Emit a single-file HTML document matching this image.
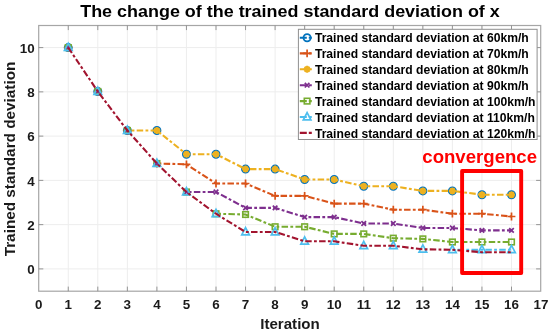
<!DOCTYPE html>
<html><head><meta charset="utf-8"><title>The change of the trained standard deviation of x</title>
<style>
html,body{margin:0;padding:0;background:#fff}
body{width:550px;height:332px;position:relative;overflow:hidden;font-family:"Liberation Sans",Arial,sans-serif;font-weight:bold;color:#1a1a1a}
.t{position:absolute;white-space:nowrap;line-height:1}
.title{left:0px;width:580px;text-align:center;top:3.2px;font-size:17.95px;color:#000;transform:scaleY(0.95)}
.xt{font-size:13.4px;top:298px;width:30px;text-align:center}
.yt{font-size:13.4px;width:30px;text-align:right;left:4.7px}
.xl{left:0;width:580px;text-align:center;top:315.8px;font-size:15.1px}
.yl{left:9.7px;top:159.1px;font-size:15.3px;transform:translate(-50%,-50%) rotate(-90deg) scaleY(0.96)}
.lg{left:314.9px;font-size:12.15px;color:#000;transform:scaleY(1.02)}
.cv{left:422.3px;top:147.5px;font-size:18.6px;color:#ff0000}
</style></head><body>
<svg width="550" height="332" viewBox="0 0 550 332" style="position:absolute;left:0;top:0">
<rect width="550" height="332" fill="#fff"/>
<path d="M68.25 25.5V291.2M97.80 25.5V291.2M127.35 25.5V291.2M156.90 25.5V291.2M186.45 25.5V291.2M216.00 25.5V291.2M245.55 25.5V291.2M275.10 25.5V291.2M304.65 25.5V291.2M334.20 25.5V291.2M363.75 25.5V291.2M393.30 25.5V291.2M422.85 25.5V291.2M452.40 25.5V291.2M481.95 25.5V291.2M511.50 25.5V291.2M38.7 268.90H540.7M38.7 224.64H540.7M38.7 180.38H540.7M38.7 136.12H540.7M38.7 91.86H540.7M38.7 47.60H540.7" stroke="#ededed" stroke-width="1" fill="none"/>
<rect x="38.7" y="25.5" width="502.00000000000006" height="265.7" fill="none" stroke="#a6a6a6" stroke-width="1.2"/>
<path d="M68.25 291.2v-4.6M68.25 25.5v4.6M97.80 291.2v-4.6M97.80 25.5v4.6M127.35 291.2v-4.6M127.35 25.5v4.6M156.90 291.2v-4.6M156.90 25.5v4.6M186.45 291.2v-4.6M186.45 25.5v4.6M216.00 291.2v-4.6M216.00 25.5v4.6M245.55 291.2v-4.6M245.55 25.5v4.6M275.10 291.2v-4.6M275.10 25.5v4.6M304.65 291.2v-4.6M304.65 25.5v4.6M334.20 291.2v-4.6M334.20 25.5v4.6M363.75 291.2v-4.6M363.75 25.5v4.6M393.30 291.2v-4.6M393.30 25.5v4.6M422.85 291.2v-4.6M422.85 25.5v4.6M452.40 291.2v-4.6M452.40 25.5v4.6M481.95 291.2v-4.6M481.95 25.5v4.6M511.50 291.2v-4.6M511.50 25.5v4.6M38.7 268.90h4.6M540.7 268.90h-4.6M38.7 224.64h4.6M540.7 224.64h-4.6M38.7 180.38h4.6M540.7 180.38h-4.6M38.7 136.12h4.6M540.7 136.12h-4.6M38.7 91.86h4.6M540.7 91.86h-4.6M38.7 47.60h4.6M540.7 47.60h-4.6" stroke="#8a8a8a" stroke-width="0.9" fill="none"/>
<circle cx="68.25" cy="47.60" r="3.6" fill="none" stroke="#0072BD" stroke-width="1.8"/>
<circle cx="97.80" cy="91.50" r="3.6" fill="none" stroke="#0072BD" stroke-width="1.8"/>
<circle cx="127.35" cy="130.50" r="3.6" fill="none" stroke="#0072BD" stroke-width="1.8"/>
<circle cx="156.90" cy="130.50" r="3.6" fill="none" stroke="#0072BD" stroke-width="1.8"/>
<circle cx="186.45" cy="154.20" r="3.6" fill="none" stroke="#0072BD" stroke-width="1.8"/>
<circle cx="216.00" cy="154.20" r="3.6" fill="none" stroke="#0072BD" stroke-width="1.8"/>
<circle cx="245.55" cy="169.10" r="3.6" fill="none" stroke="#0072BD" stroke-width="1.8"/>
<circle cx="275.10" cy="169.10" r="3.6" fill="none" stroke="#0072BD" stroke-width="1.8"/>
<circle cx="304.65" cy="179.50" r="3.6" fill="none" stroke="#0072BD" stroke-width="1.8"/>
<circle cx="334.20" cy="179.50" r="3.6" fill="none" stroke="#0072BD" stroke-width="1.8"/>
<circle cx="363.75" cy="186.25" r="3.6" fill="none" stroke="#0072BD" stroke-width="1.8"/>
<circle cx="393.30" cy="186.25" r="3.6" fill="none" stroke="#0072BD" stroke-width="1.8"/>
<circle cx="422.85" cy="190.90" r="3.6" fill="none" stroke="#0072BD" stroke-width="1.8"/>
<circle cx="452.40" cy="190.90" r="3.6" fill="none" stroke="#0072BD" stroke-width="1.8"/>
<circle cx="481.95" cy="194.70" r="3.6" fill="none" stroke="#0072BD" stroke-width="1.8"/>
<circle cx="511.50" cy="194.70" r="3.6" fill="none" stroke="#0072BD" stroke-width="1.8"/>
<polyline points="156.90,163.50 186.45,164.30 216.00,183.50 245.55,183.50 275.10,195.90 304.65,195.90 334.20,203.60 363.75,203.60 393.30,209.70 422.85,209.70 452.40,213.70 481.95,213.70 511.50,216.50" fill="none" stroke="#D95319" stroke-width="2.1" stroke-dasharray="6.5 2.3 2.8 2.3" stroke-dashoffset="7.15"/>
<path d="M64.35 47.60H72.15M68.25 43.70V51.50" stroke="#D95319" stroke-width="1.7" fill="none"/>
<path d="M93.90 91.50H101.70M97.80 87.60V95.40" stroke="#D95319" stroke-width="1.7" fill="none"/>
<path d="M123.45 130.50H131.25M127.35 126.60V134.40" stroke="#D95319" stroke-width="1.7" fill="none"/>
<path d="M153.00 163.50H160.80M156.90 159.60V167.40" stroke="#D95319" stroke-width="1.7" fill="none"/>
<path d="M182.55 164.30H190.35M186.45 160.40V168.20" stroke="#D95319" stroke-width="1.7" fill="none"/>
<path d="M212.10 183.50H219.90M216.00 179.60V187.40" stroke="#D95319" stroke-width="1.7" fill="none"/>
<path d="M241.65 183.50H249.45M245.55 179.60V187.40" stroke="#D95319" stroke-width="1.7" fill="none"/>
<path d="M271.20 195.90H279.00M275.10 192.00V199.80" stroke="#D95319" stroke-width="1.7" fill="none"/>
<path d="M300.75 195.90H308.55M304.65 192.00V199.80" stroke="#D95319" stroke-width="1.7" fill="none"/>
<path d="M330.30 203.60H338.10M334.20 199.70V207.50" stroke="#D95319" stroke-width="1.7" fill="none"/>
<path d="M359.85 203.60H367.65M363.75 199.70V207.50" stroke="#D95319" stroke-width="1.7" fill="none"/>
<path d="M389.40 209.70H397.20M393.30 205.80V213.60" stroke="#D95319" stroke-width="1.7" fill="none"/>
<path d="M418.95 209.70H426.75M422.85 205.80V213.60" stroke="#D95319" stroke-width="1.7" fill="none"/>
<path d="M448.50 213.70H456.30M452.40 209.80V217.60" stroke="#D95319" stroke-width="1.7" fill="none"/>
<path d="M478.05 213.70H485.85M481.95 209.80V217.60" stroke="#D95319" stroke-width="1.7" fill="none"/>
<path d="M507.60 216.50H515.40M511.50 212.60V220.40" stroke="#D95319" stroke-width="1.7" fill="none"/>
<polyline points="127.35,130.50 156.90,130.50 186.45,154.20 216.00,154.20 245.55,169.10 275.10,169.10 304.65,179.50 334.20,179.50 363.75,186.25 393.30,186.25 422.85,190.90 452.40,190.90 481.95,194.70 511.50,194.70" fill="none" stroke="#EDB120" stroke-width="2.1" stroke-dasharray="6.5 2.3 2.8 2.3" stroke-dashoffset="4.55"/>
<path d="M64.75 47.60H71.75M68.25 44.10V51.10M65.78 45.13L70.72 50.07M65.78 50.07L70.72 45.13" stroke="#EDB120" stroke-width="2" fill="none"/><circle cx="68.25" cy="47.60" r="2.6" fill="#EDB120"/>
<path d="M94.30 91.50H101.30M97.80 88.00V95.00M95.33 89.03L100.27 93.97M95.33 93.97L100.27 89.03" stroke="#EDB120" stroke-width="2" fill="none"/><circle cx="97.80" cy="91.50" r="2.6" fill="#EDB120"/>
<path d="M123.85 130.50H130.85M127.35 127.00V134.00M124.88 128.03L129.82 132.97M124.88 132.97L129.82 128.03" stroke="#EDB120" stroke-width="2" fill="none"/><circle cx="127.35" cy="130.50" r="2.6" fill="#EDB120"/>
<path d="M153.40 130.50H160.40M156.90 127.00V134.00M154.43 128.03L159.37 132.97M154.43 132.97L159.37 128.03" stroke="#EDB120" stroke-width="2" fill="none"/><circle cx="156.90" cy="130.50" r="2.6" fill="#EDB120"/>
<path d="M182.95 154.20H189.95M186.45 150.70V157.70M183.98 151.73L188.92 156.67M183.98 156.67L188.92 151.73" stroke="#EDB120" stroke-width="2" fill="none"/><circle cx="186.45" cy="154.20" r="2.6" fill="#EDB120"/>
<path d="M212.50 154.20H219.50M216.00 150.70V157.70M213.53 151.73L218.47 156.67M213.53 156.67L218.47 151.73" stroke="#EDB120" stroke-width="2" fill="none"/><circle cx="216.00" cy="154.20" r="2.6" fill="#EDB120"/>
<path d="M242.05 169.10H249.05M245.55 165.60V172.60M243.08 166.63L248.02 171.57M243.08 171.57L248.02 166.63" stroke="#EDB120" stroke-width="2" fill="none"/><circle cx="245.55" cy="169.10" r="2.6" fill="#EDB120"/>
<path d="M271.60 169.10H278.60M275.10 165.60V172.60M272.63 166.63L277.57 171.57M272.63 171.57L277.57 166.63" stroke="#EDB120" stroke-width="2" fill="none"/><circle cx="275.10" cy="169.10" r="2.6" fill="#EDB120"/>
<path d="M301.15 179.50H308.15M304.65 176.00V183.00M302.18 177.03L307.12 181.97M302.18 181.97L307.12 177.03" stroke="#EDB120" stroke-width="2" fill="none"/><circle cx="304.65" cy="179.50" r="2.6" fill="#EDB120"/>
<path d="M330.70 179.50H337.70M334.20 176.00V183.00M331.73 177.03L336.67 181.97M331.73 181.97L336.67 177.03" stroke="#EDB120" stroke-width="2" fill="none"/><circle cx="334.20" cy="179.50" r="2.6" fill="#EDB120"/>
<path d="M360.25 186.25H367.25M363.75 182.75V189.75M361.28 183.78L366.22 188.72M361.28 188.72L366.22 183.78" stroke="#EDB120" stroke-width="2" fill="none"/><circle cx="363.75" cy="186.25" r="2.6" fill="#EDB120"/>
<path d="M389.80 186.25H396.80M393.30 182.75V189.75M390.83 183.78L395.77 188.72M390.83 188.72L395.77 183.78" stroke="#EDB120" stroke-width="2" fill="none"/><circle cx="393.30" cy="186.25" r="2.6" fill="#EDB120"/>
<path d="M419.35 190.90H426.35M422.85 187.40V194.40M420.38 188.43L425.32 193.37M420.38 193.37L425.32 188.43" stroke="#EDB120" stroke-width="2" fill="none"/><circle cx="422.85" cy="190.90" r="2.6" fill="#EDB120"/>
<path d="M448.90 190.90H455.90M452.40 187.40V194.40M449.93 188.43L454.87 193.37M449.93 193.37L454.87 188.43" stroke="#EDB120" stroke-width="2" fill="none"/><circle cx="452.40" cy="190.90" r="2.6" fill="#EDB120"/>
<path d="M478.45 194.70H485.45M481.95 191.20V198.20M479.48 192.23L484.42 197.17M479.48 197.17L484.42 192.23" stroke="#EDB120" stroke-width="2" fill="none"/><circle cx="481.95" cy="194.70" r="2.6" fill="#EDB120"/>
<path d="M508.00 194.70H515.00M511.50 191.20V198.20M509.03 192.23L513.97 197.17M509.03 197.17L513.97 192.23" stroke="#EDB120" stroke-width="2" fill="none"/><circle cx="511.50" cy="194.70" r="2.6" fill="#EDB120"/>
<polyline points="186.45,192.00 216.00,192.00 245.55,207.90 275.10,207.90 304.65,217.10 334.20,217.10 363.75,223.50 393.30,223.50 422.85,228.00 452.40,228.00 481.95,230.40 511.50,230.40" fill="none" stroke="#7E2F8E" stroke-width="2.1" stroke-dasharray="6.5 2.3 2.8 2.3" stroke-dashoffset="6.50"/>
<path d="M65.95 45.30L70.55 49.90M65.95 49.90L70.55 45.30" stroke="#7E2F8E" stroke-width="1.7" fill="none"/>
<path d="M95.50 89.20L100.10 93.80M95.50 93.80L100.10 89.20" stroke="#7E2F8E" stroke-width="1.7" fill="none"/>
<path d="M125.05 128.20L129.65 132.80M125.05 132.80L129.65 128.20" stroke="#7E2F8E" stroke-width="1.7" fill="none"/>
<path d="M154.60 161.20L159.20 165.80M154.60 165.80L159.20 161.20" stroke="#7E2F8E" stroke-width="1.7" fill="none"/>
<path d="M184.15 189.70L188.75 194.30M184.15 194.30L188.75 189.70" stroke="#7E2F8E" stroke-width="1.7" fill="none"/>
<path d="M213.70 189.70L218.30 194.30M213.70 194.30L218.30 189.70" stroke="#7E2F8E" stroke-width="1.7" fill="none"/>
<path d="M243.25 205.60L247.85 210.20M243.25 210.20L247.85 205.60" stroke="#7E2F8E" stroke-width="1.7" fill="none"/>
<path d="M272.80 205.60L277.40 210.20M272.80 210.20L277.40 205.60" stroke="#7E2F8E" stroke-width="1.7" fill="none"/>
<path d="M302.35 214.80L306.95 219.40M302.35 219.40L306.95 214.80" stroke="#7E2F8E" stroke-width="1.7" fill="none"/>
<path d="M331.90 214.80L336.50 219.40M331.90 219.40L336.50 214.80" stroke="#7E2F8E" stroke-width="1.7" fill="none"/>
<path d="M361.45 221.20L366.05 225.80M361.45 225.80L366.05 221.20" stroke="#7E2F8E" stroke-width="1.7" fill="none"/>
<path d="M391.00 221.20L395.60 225.80M391.00 225.80L395.60 221.20" stroke="#7E2F8E" stroke-width="1.7" fill="none"/>
<path d="M420.55 225.70L425.15 230.30M420.55 230.30L425.15 225.70" stroke="#7E2F8E" stroke-width="1.7" fill="none"/>
<path d="M450.10 225.70L454.70 230.30M450.10 230.30L454.70 225.70" stroke="#7E2F8E" stroke-width="1.7" fill="none"/>
<path d="M479.65 228.10L484.25 232.70M479.65 232.70L484.25 228.10" stroke="#7E2F8E" stroke-width="1.7" fill="none"/>
<path d="M509.20 228.10L513.80 232.70M509.20 232.70L513.80 228.10" stroke="#7E2F8E" stroke-width="1.7" fill="none"/>
<polyline points="216.00,213.75 245.55,214.50 275.10,226.75 304.65,226.75 334.20,233.90 363.75,233.90 393.30,238.20 422.85,238.90 452.40,242.00 481.95,242.00 511.50,242.00" fill="none" stroke="#77AC30" stroke-width="2.1" stroke-dasharray="6.5 2.3 2.8 2.3" stroke-dashoffset="1.49"/>
<rect x="65.45" y="44.80" width="5.6" height="5.6" fill="none" stroke="#77AC30" stroke-width="1.6"/>
<rect x="95.00" y="88.70" width="5.6" height="5.6" fill="none" stroke="#77AC30" stroke-width="1.6"/>
<rect x="124.55" y="127.70" width="5.6" height="5.6" fill="none" stroke="#77AC30" stroke-width="1.6"/>
<rect x="154.10" y="160.70" width="5.6" height="5.6" fill="none" stroke="#77AC30" stroke-width="1.6"/>
<rect x="183.65" y="189.20" width="5.6" height="5.6" fill="none" stroke="#77AC30" stroke-width="1.6"/>
<rect x="213.20" y="210.95" width="5.6" height="5.6" fill="none" stroke="#77AC30" stroke-width="1.6"/>
<rect x="242.75" y="211.70" width="5.6" height="5.6" fill="none" stroke="#77AC30" stroke-width="1.6"/>
<rect x="272.30" y="223.95" width="5.6" height="5.6" fill="none" stroke="#77AC30" stroke-width="1.6"/>
<rect x="301.85" y="223.95" width="5.6" height="5.6" fill="none" stroke="#77AC30" stroke-width="1.6"/>
<rect x="331.40" y="231.10" width="5.6" height="5.6" fill="none" stroke="#77AC30" stroke-width="1.6"/>
<rect x="360.95" y="231.10" width="5.6" height="5.6" fill="none" stroke="#77AC30" stroke-width="1.6"/>
<rect x="390.50" y="235.40" width="5.6" height="5.6" fill="none" stroke="#77AC30" stroke-width="1.6"/>
<rect x="420.05" y="236.10" width="5.6" height="5.6" fill="none" stroke="#77AC30" stroke-width="1.6"/>
<rect x="449.60" y="239.20" width="5.6" height="5.6" fill="none" stroke="#77AC30" stroke-width="1.6"/>
<rect x="479.15" y="239.20" width="5.6" height="5.6" fill="none" stroke="#77AC30" stroke-width="1.6"/>
<rect x="508.70" y="239.20" width="5.6" height="5.6" fill="none" stroke="#77AC30" stroke-width="1.6"/>
<polyline points="452.40,249.80 481.95,249.80 511.50,249.80" fill="none" stroke="#4DBEEE" stroke-width="2.1" stroke-dasharray="6.5 2.3 2.8 2.3" stroke-dashoffset="8.75"/>
<path d="M68.25 43.20L72.05 50.40H64.45Z" fill="none" stroke="#4DBEEE" stroke-width="1.7" stroke-linejoin="miter"/>
<path d="M97.80 87.10L101.60 94.30H94.00Z" fill="none" stroke="#4DBEEE" stroke-width="1.7" stroke-linejoin="miter"/>
<path d="M127.35 126.10L131.15 133.30H123.55Z" fill="none" stroke="#4DBEEE" stroke-width="1.7" stroke-linejoin="miter"/>
<path d="M156.90 159.10L160.70 166.30H153.10Z" fill="none" stroke="#4DBEEE" stroke-width="1.7" stroke-linejoin="miter"/>
<path d="M186.45 187.60L190.25 194.80H182.65Z" fill="none" stroke="#4DBEEE" stroke-width="1.7" stroke-linejoin="miter"/>
<path d="M216.00 209.35L219.80 216.55H212.20Z" fill="none" stroke="#4DBEEE" stroke-width="1.7" stroke-linejoin="miter"/>
<path d="M245.55 227.60L249.35 234.80H241.75Z" fill="none" stroke="#4DBEEE" stroke-width="1.7" stroke-linejoin="miter"/>
<path d="M275.10 227.60L278.90 234.80H271.30Z" fill="none" stroke="#4DBEEE" stroke-width="1.7" stroke-linejoin="miter"/>
<path d="M304.65 236.90L308.45 244.10H300.85Z" fill="none" stroke="#4DBEEE" stroke-width="1.7" stroke-linejoin="miter"/>
<path d="M334.20 236.90L338.00 244.10H330.40Z" fill="none" stroke="#4DBEEE" stroke-width="1.7" stroke-linejoin="miter"/>
<path d="M363.75 241.35L367.55 248.55H359.95Z" fill="none" stroke="#4DBEEE" stroke-width="1.7" stroke-linejoin="miter"/>
<path d="M393.30 241.35L397.10 248.55H389.50Z" fill="none" stroke="#4DBEEE" stroke-width="1.7" stroke-linejoin="miter"/>
<path d="M422.85 244.90L426.65 252.10H419.05Z" fill="none" stroke="#4DBEEE" stroke-width="1.7" stroke-linejoin="miter"/>
<path d="M452.40 245.40L456.20 252.60H448.60Z" fill="none" stroke="#4DBEEE" stroke-width="1.7" stroke-linejoin="miter"/>
<path d="M481.95 245.40L485.75 252.60H478.15Z" fill="none" stroke="#4DBEEE" stroke-width="1.7" stroke-linejoin="miter"/>
<path d="M511.50 245.40L515.30 252.60H507.70Z" fill="none" stroke="#4DBEEE" stroke-width="1.7" stroke-linejoin="miter"/>
<polyline points="68.25,47.60 97.80,91.50 127.35,130.50 156.90,163.50 186.45,192.00 216.00,213.75 245.55,232.00 275.10,232.00 304.65,241.30 334.20,241.30 363.75,245.75 393.30,245.75 422.85,249.30 452.40,249.80 481.95,252.20 511.50,252.20" fill="none" stroke="#A2142F" stroke-width="2.1" stroke-dasharray="6.5 2.3 2.8 2.3" stroke-dashoffset="0.00"/>
<rect x="462.1" y="171" width="59.1" height="102" fill="none" stroke="#ff0000" stroke-width="3.9" stroke-linejoin="round"/>
<rect x="298.4" y="29.3" width="238.7" height="110.2" fill="#fff" stroke="#8f8f8f" stroke-width="1"/>
<path d="M299.8 37.8H312.2" stroke="#0072BD" stroke-width="2.1" stroke-dasharray="7 2 3 2" fill="none"/>
<circle cx="307.10" cy="37.80" r="3.6" fill="none" stroke="#0072BD" stroke-width="1.8"/>
<path d="M299.8 53.4H312.2" stroke="#D95319" stroke-width="2.1" stroke-dasharray="7 2 3 2" fill="none"/>
<path d="M303.20 53.40H311.00M307.10 49.50V57.30" stroke="#D95319" stroke-width="1.7" fill="none"/>
<path d="M299.8 69.2H312.2" stroke="#EDB120" stroke-width="2.1" stroke-dasharray="7 2 3 2" fill="none"/>
<path d="M303.60 69.20H310.60M307.10 65.70V72.70M304.63 66.73L309.57 71.67M304.63 71.67L309.57 66.73" stroke="#EDB120" stroke-width="2" fill="none"/><circle cx="307.10" cy="69.20" r="2.6" fill="#EDB120"/>
<path d="M299.8 85.2H312.2" stroke="#7E2F8E" stroke-width="2.1" stroke-dasharray="7 2 3 2" fill="none"/>
<path d="M304.80 82.90L309.40 87.50M304.80 87.50L309.40 82.90" stroke="#7E2F8E" stroke-width="1.7" fill="none"/>
<path d="M299.8 101.1H312.2" stroke="#77AC30" stroke-width="2.1" stroke-dasharray="7 2 3 2" fill="none"/>
<rect x="304.30" y="98.30" width="5.6" height="5.6" fill="none" stroke="#77AC30" stroke-width="1.6"/>
<path d="M299.8 117.0H312.2" stroke="#4DBEEE" stroke-width="2.1" stroke-dasharray="7 2 3 2" fill="none"/>
<path d="M307.10 112.60L310.90 119.80H303.30Z" fill="none" stroke="#4DBEEE" stroke-width="1.7" stroke-linejoin="miter"/>
<path d="M299.8 132.9H312.2" stroke="#A2142F" stroke-width="2.1" stroke-dasharray="7 2 3 2" fill="none"/>
</svg>
<div class="t title">The change of the trained standard deviation of x</div>
<div class="t xt" style="left:23.70px">0</div>
<div class="t xt" style="left:53.25px">1</div>
<div class="t xt" style="left:82.80px">2</div>
<div class="t xt" style="left:112.35px">3</div>
<div class="t xt" style="left:141.90px">4</div>
<div class="t xt" style="left:171.45px">5</div>
<div class="t xt" style="left:201.00px">6</div>
<div class="t xt" style="left:230.55px">7</div>
<div class="t xt" style="left:260.10px">8</div>
<div class="t xt" style="left:289.65px">9</div>
<div class="t xt" style="left:319.20px">10</div>
<div class="t xt" style="left:348.75px">11</div>
<div class="t xt" style="left:378.30px">12</div>
<div class="t xt" style="left:407.85px">13</div>
<div class="t xt" style="left:437.40px">14</div>
<div class="t xt" style="left:466.95px">15</div>
<div class="t xt" style="left:496.50px">16</div>
<div class="t xt" style="left:526.05px">17</div>
<div class="t yt" style="top:263.20px">0</div>
<div class="t yt" style="top:218.94px">2</div>
<div class="t yt" style="top:174.68px">4</div>
<div class="t yt" style="top:130.42px">6</div>
<div class="t yt" style="top:86.16px">8</div>
<div class="t yt" style="top:41.90px">10</div>
<div class="t xl">Iteration</div>
<div class="t yl">Trained standard deviation</div>
<div class="t lg" style="top:32.40px">Trained standard deviation at 60km/h</div>
<div class="t lg" style="top:48.00px">Trained standard deviation at 70km/h</div>
<div class="t lg" style="top:63.80px">Trained standard deviation at 80km/h</div>
<div class="t lg" style="top:79.80px">Trained standard deviation at 90km/h</div>
<div class="t lg" style="top:95.70px">Trained standard deviation at 100km/h</div>
<div class="t lg" style="top:111.60px">Trained standard deviation at 110km/h</div>
<div class="t lg" style="top:127.50px">Trained standard deviation at 120km/h</div>
<div class="t cv">convergence</div>
</body></html>
